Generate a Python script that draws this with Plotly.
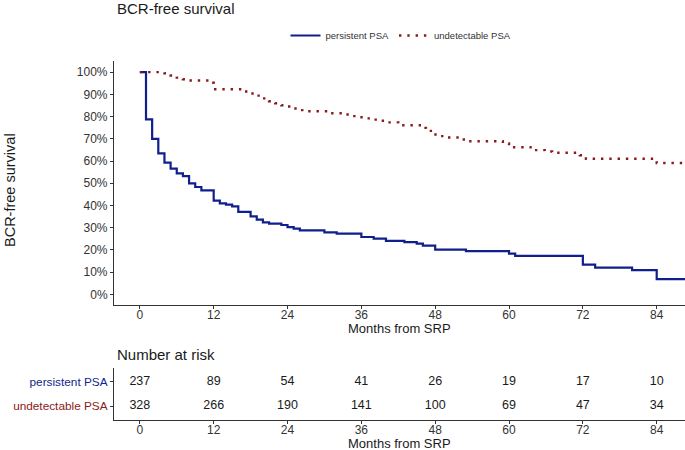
import plotly.graph_objects as go

# ---- data ----
times_persistent = [0, 1, 2, 3, 4, 5, 6, 7, 8, 9, 10, 12, 13, 14, 15, 16, 18, 19, 20, 21, 23, 24, 25, 26,
                    30, 32, 36, 38, 40, 43, 45, 46, 48, 53, 60, 61, 72, 74, 80, 84, 90]
surv_persistent = [100, 78.7, 70, 63.4, 59.3, 56.6, 54.4, 53.2, 49.9, 48.3, 46.8, 42.2, 40.9, 40.4, 39.6,
                   37.1, 35.1, 33.6, 32.4, 31.8, 31.2, 30.2, 29.6, 28.8, 27.9, 27.3, 25.8, 25.1, 24.1,
                   23.5, 22.8, 21.9, 20.1, 19.4, 18.3, 17.3, 13.4, 12.0, 10.9, 6.8, 6.8]

times_undetect = [0, 4, 5, 6, 7, 8, 11.5, 12, 17, 18, 19, 20, 21, 22, 23, 24, 25, 26, 27, 31, 33, 34,
                  35.5, 36.5, 38, 39, 40, 42, 45.5, 46.5, 47.3, 48.3, 49.5, 52, 53, 59, 60, 63.5, 65.8,
                  67, 71.5, 72.5, 84, 90]
surv_undetect = [100, 99.5, 98.5, 97.5, 96.8, 96.2, 95.2, 92.3, 91.3, 90.4, 89.4, 88.2, 86.9, 86, 85.1,
                 84.5, 83.6, 82.9, 82.4, 81.5, 80.9, 80.2, 79.7, 79.2, 78.6, 78.1, 77.4, 76.1, 74.9,
                 74.2, 71.9, 71.2, 70.6, 69.7, 68.9, 67.9, 66.2, 64.9, 64.3, 63.7, 62.6, 61, 59.1, 59.1]

risk_times = [0, 12, 24, 36, 48, 60, 72, 84]
risk_persistent = [237, 89, 54, 41, 26, 19, 17, 10]
risk_undetect = [328, 266, 190, 141, 100, 69, 47, 34]

y_ticks = [0, 10, 20, 30, 40, 50, 60, 70, 80, 90, 100]
group_names = ["persistent PSA", "undetectable PSA"]

BLUE = "#0f1f8c"
RED = "#8b1a1a"
AX = "#333333"
TXT = "#333333"
DARK = "#1a1a1a"
FONT = "Liberation Sans, Arial, sans-serif"

W, H = 685, 450

def ydom(top_px, bot_px):
    return [1 - bot_px / H, 1 - top_px / H]

fig = go.Figure()

fig.add_trace(go.Scatter(x=times_persistent, y=surv_persistent, mode="lines", line_shape="hv",
                         line=dict(color=BLUE, width=2.2), name=group_names[0],
                         xaxis="x", yaxis="y"))
fig.add_trace(go.Scatter(x=times_undetect, y=surv_undetect, mode="lines", line_shape="hv",
                         line=dict(color=RED, width=2.4, dash="2.4px,5.9px"), name=group_names[1],
                         xaxis="x", yaxis="y"))

fig.add_trace(go.Scatter(x=risk_times, y=[2] * len(risk_times), mode="text",
                         text=[str(v) for v in risk_persistent],
                         textfont=dict(size=12.5, color=DARK, family=FONT),
                         showlegend=False, xaxis="x2", yaxis="y2", hoverinfo="skip"))
fig.add_trace(go.Scatter(x=risk_times, y=[1] * len(risk_times), mode="text",
                         text=[str(v) for v in risk_undetect],
                         textfont=dict(size=12.5, color=DARK, family=FONT),
                         showlegend=False, xaxis="x2", yaxis="y2", hoverinfo="skip"))

xcommon = dict(range=[-4.2, 88.6], tickmode="array", tickvals=risk_times,
               ticktext=[str(t) for t in risk_times], showline=True, linecolor=AX, linewidth=1.1,
               ticks="outside", ticklen=3, tickcolor=AX, tickfont=dict(size=12, color=TXT, family=FONT),
               ticklabelstandoff=-4,
               showgrid=False, zeroline=False, domain=[114 / W, 1], automargin=False)

def ann(text, x, y, size, angle=0, xanchor="center"):
    return dict(text=text, xref="paper", yref="paper", x=x / W, y=1 - y / H, xanchor=xanchor,
                yanchor="middle", showarrow=False, textangle=angle,
                font=dict(size=size, color=DARK, family=FONT))

fig.update_layout(
    width=W, height=H,
    margin=dict(l=0, r=0, t=0, b=0, autoexpand=False),
    paper_bgcolor="white", plot_bgcolor="white",
    font=dict(family=FONT, color=TXT),
    showlegend=True,
    legend=dict(orientation="h", x=401 / W, xanchor="center", y=1 - 35.5 / H, yanchor="middle",
                font=dict(size=9.5, color="#333333", family=FONT), bgcolor="rgba(0,0,0,0)",
                itemwidth=30, tracegroupgap=0),
    xaxis=dict(**xcommon, anchor="y"),
    yaxis=dict(domain=ydom(61, 305), range=[-4.8, 105], tickmode="array", tickvals=y_ticks,
               ticktext=[f"{v}%" for v in y_ticks], showline=True, linecolor=AX, linewidth=1.1,
               ticks="outside", ticklen=3, tickcolor=AX, tickfont=dict(size=12, color=TXT, family=FONT),
               showgrid=False, zeroline=False, anchor="x", automargin=False),
    xaxis2=dict(**xcommon, anchor="y2"),
    yaxis2=dict(domain=ydom(368, 419.5), range=[0.45, 2.55], tickmode="array", tickvals=[2, 1],
                ticktext=[f"<span style='color:{BLUE}'>{group_names[0]}</span>",
                          f"<span style='color:{RED}'>{group_names[1]}</span>"],
                showline=True, linecolor=AX, linewidth=1.1, ticks="outside", ticklen=3, tickcolor=AX,
                tickfont=dict(size=11.8, family=FONT), showgrid=False, zeroline=False, anchor="x2",
                automargin=False),
    annotations=[
        ann("BCR-free survival", 115, 8, 15, xanchor="left"),
        ann("Number at risk", 115, 354, 15, xanchor="left"),
        ann("Months from SRP", 399.5, 328, 13),
        ann("Months from SRP", 399.5, 443, 13),
        ann("BCR-free survival", 10, 190, 14.5, angle=-90),
    ],
)

fig.write_html("out.html", config={"displayModeBar": False},
               post_script="document.body.style.margin='0px';")
